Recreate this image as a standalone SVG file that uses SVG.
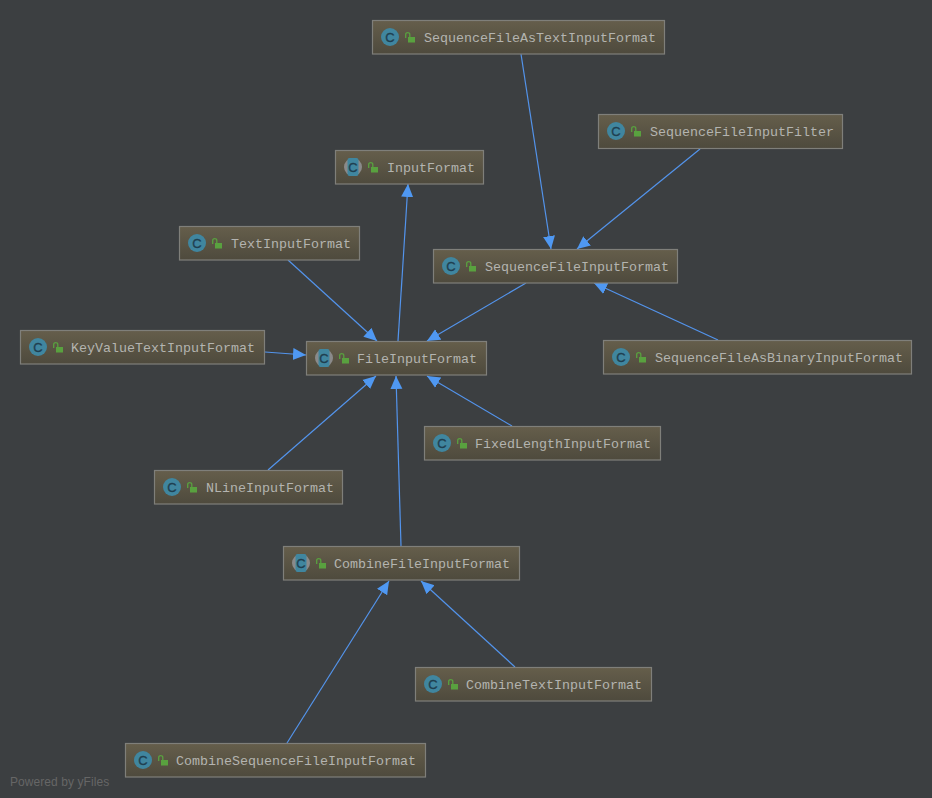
<svg xmlns="http://www.w3.org/2000/svg" width="932" height="798" viewBox="0 0 932 798">
<style>
.box{fill:url(#nodeFill);stroke:#7f7f7a;stroke-width:1.2}
.lbl{font-family:"Liberation Mono",monospace;font-size:13.33px;fill:#b4b4b0}
.ic{font-family:"Liberation Sans",sans-serif;font-size:13px;fill:#1f3f50;text-anchor:middle;stroke:#1f3f50;stroke-width:.3}
.edge{stroke:#5394ec;stroke-width:1.2;fill:none;marker-end:url(#arrow)}
.disc{fill:#40869f}
.abs{fill:#8a8a8a}
.lock{fill:none;stroke:#59a13f;stroke-width:1.3}
.lockb{fill:#59a13f}
</style>
<defs>
<linearGradient id="nodeFill" x1="0" y1="0" x2="0" y2="1"><stop offset="0" stop-color="#655e4b"/><stop offset="1" stop-color="#4e4a3d"/></linearGradient>
<marker id="arrow" markerUnits="userSpaceOnUse" markerWidth="15" markerHeight="14" refX="13" refY="6.500" orient="auto"><path d="M0 0.500L13 6.500L0 12.500Z" fill="#4f98f2"/></marker>
<g id="lockIcon"><path class="lock" d="M0.700 5V1.500C0.700 -1 4.800 -1 4.800 1.500V4"/><rect class="lockb" x="3" y="4" width="7" height="5.500"/></g>
</defs>
<rect width="932" height="798" fill="#3c3f41"/>
<g id="connectors">
<path class="edge" d="M521 54L551 249"/>
<path class="edge" d="M700 149L577 249"/>
<path class="edge" d="M718 340L594 283"/>
<path class="edge" d="M526 283L427 341"/>
<path class="edge" d="M398 341L408 184"/>
<path class="edge" d="M288 260L377 341"/>
<path class="edge" d="M265 352L306 355"/>
<path class="edge" d="M268 470L376 376"/>
<path class="edge" d="M401 546L396 376"/>
<path class="edge" d="M512 426L427 376"/>
<path class="edge" d="M515 667L421 581"/>
<path class="edge" d="M287 743L389 581"/>
</g>
<g id="n1"><rect class="box" x="372.500" y="20.500" width="292" height="33.500"/><circle class="disc" cx="390" cy="37" r="9"/><text class="ic" x="390" y="41.500">C</text><use href="#lockIcon" x="405" y="33"/><text class="lbl" x="424" y="42">SequenceFileAsTextInputFormat</text></g>
<g id="n2"><rect class="box" x="598.500" y="114.500" width="244" height="34"/><circle class="disc" cx="616" cy="131" r="9"/><text class="ic" x="616" y="135.500">C</text><use href="#lockIcon" x="631" y="127"/><text class="lbl" x="650" y="136">SequenceFileInputFilter</text></g>
<g id="n3"><rect class="box" x="335.500" y="150.500" width="148" height="33.500"/><circle class="abs" cx="353" cy="167" r="9"/><rect class="disc" x="347.500" y="158" width="11" height="18" rx="2"/><text class="ic" x="353" y="171.500">C</text><use href="#lockIcon" x="368" y="163"/><text class="lbl" x="387" y="172">InputFormat</text></g>
<g id="n4"><rect class="box" x="179.500" y="226.500" width="180" height="33.500"/><circle class="disc" cx="197" cy="243" r="9"/><text class="ic" x="197" y="247.500">C</text><use href="#lockIcon" x="212" y="239"/><text class="lbl" x="231" y="248">TextInputFormat</text></g>
<g id="n5"><rect class="box" x="433.500" y="249.500" width="244" height="33.500"/><circle class="disc" cx="451" cy="266" r="9"/><text class="ic" x="451" y="270.500">C</text><use href="#lockIcon" x="466" y="262"/><text class="lbl" x="485" y="271">SequenceFileInputFormat</text></g>
<g id="n6"><rect class="box" x="20.500" y="330.500" width="244" height="33.500"/><circle class="disc" cx="38" cy="347" r="9"/><text class="ic" x="38" y="351.500">C</text><use href="#lockIcon" x="53" y="343"/><text class="lbl" x="71" y="352">KeyValueTextInputFormat</text></g>
<g id="n7"><rect class="box" x="306.500" y="341.500" width="180" height="33.500"/><circle class="abs" cx="324" cy="358" r="9"/><rect class="disc" x="318.500" y="349" width="11" height="18" rx="2"/><text class="ic" x="324" y="362.500">C</text><use href="#lockIcon" x="339" y="354"/><text class="lbl" x="357" y="363">FileInputFormat</text></g>
<g id="n8"><rect class="box" x="603.500" y="340.500" width="308" height="33.500"/><circle class="disc" cx="621" cy="357" r="9"/><text class="ic" x="621" y="361.500">C</text><use href="#lockIcon" x="636" y="353"/><text class="lbl" x="655" y="362">SequenceFileAsBinaryInputFormat</text></g>
<g id="n9"><rect class="box" x="424.500" y="426.500" width="236" height="33.500"/><circle class="disc" cx="442" cy="443" r="9"/><text class="ic" x="442" y="447.500">C</text><use href="#lockIcon" x="457" y="439"/><text class="lbl" x="475" y="448">FixedLengthInputFormat</text></g>
<g id="n10"><rect class="box" x="154.500" y="470.500" width="188" height="33.500"/><circle class="disc" cx="172" cy="487" r="9"/><text class="ic" x="172" y="491.500">C</text><use href="#lockIcon" x="187" y="483"/><text class="lbl" x="206" y="492">NLineInputFormat</text></g>
<g id="n11"><rect class="box" x="283.500" y="546.500" width="236" height="33.500"/><circle class="abs" cx="301" cy="563" r="9"/><rect class="disc" x="295.500" y="554" width="11" height="18" rx="2"/><text class="ic" x="301" y="567.500">C</text><use href="#lockIcon" x="316" y="559"/><text class="lbl" x="334" y="568">CombineFileInputFormat</text></g>
<g id="n12"><rect class="box" x="415.500" y="667.500" width="236" height="33.500"/><circle class="disc" cx="433" cy="684" r="9"/><text class="ic" x="433" y="688.500">C</text><use href="#lockIcon" x="448" y="680"/><text class="lbl" x="466" y="689">CombineTextInputFormat</text></g>
<g id="n13"><rect class="box" x="125.500" y="743.500" width="300" height="33.500"/><circle class="disc" cx="143" cy="760" r="9"/><text class="ic" x="143" y="764.500">C</text><use href="#lockIcon" x="158" y="756"/><text class="lbl" x="176" y="765">CombineSequenceFileInputFormat</text></g>
<text x="10" y="786" font-family="Liberation Sans, sans-serif" font-size="12px" letter-spacing=".07" fill="#666666">Powered by yFiles</text>
</svg>
